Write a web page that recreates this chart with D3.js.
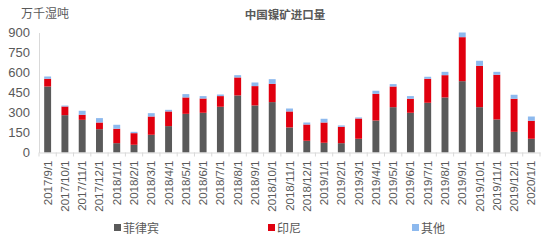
<!DOCTYPE html>
<html><head><meta charset="utf-8">
<script src="https://cdn.jsdelivr.net/npm/d3@7"></script>
<style>body{margin:0;background:#fff;} svg{display:block;font-family:"Liberation Sans","Noto Sans CJK SC",sans-serif;}</style>
</head><body>
<script>
const categories = ["2017/9/1","2017/10/1","2017/11/1","2017/12/1","2018/1/1","2018/2/1","2018/3/1","2018/4/1","2018/5/1","2018/6/1","2018/7/1","2018/8/1","2018/9/1","2018/10/1","2018/11/1","2018/12/1","2019/1/1","2019/2/1","2019/3/1","2019/4/1","2019/5/1","2019/6/1","2019/7/1","2019/8/1","2019/9/1","2019/10/1","2019/11/1","2019/12/1","2020/1/1"];
const philippines = [495,280,245,175,70,58,133,198,290,298,343,428,353,378,188,88,73,70,103,240,340,298,373,413,535,340,248,155,103];
const indonesia  = [58,65,38,50,108,87,137,110,123,107,80,135,145,137,120,122,152,123,152,200,155,105,180,167,330,310,335,248,135];
const others     = [17,7,30,33,30,10,25,12,25,18,12,17,27,35,22,15,28,10,8,23,18,20,15,25,35,38,22,30,32];
const seriesNames = ["菲律宾","印尼","其他"];
const yTicks = [0,150,300,450,600,750,900];
const colors = ["#5a5a5a","#e0000f","#8db9ee"];

const W=554,H=248;
const svg=d3.select("body").append("svg").attr("width",W).attr("height",H);
const x=d3.scaleBand().domain(categories).range([39,540]).paddingInner(0.6).paddingOuter(0.3);
const y=d3.scaleLinear().domain([0,900]).range([152.5,32.5]);

const rows=categories.map((c,i)=>({cat:c,"菲律宾":philippines[i],"印尼":indonesia[i],"其他":others[i]}));
const stack=d3.stack().keys(seriesNames)(rows);

svg.append("g").selectAll("g").data(stack).join("g").attr("fill",(d,i)=>colors[i])
 .selectAll("rect").data(d=>d).join("rect")
 .attr("x",d=>x(d.data.cat)).attr("width",x.bandwidth())
 .attr("y",d=>y(d[1])).attr("height",d=>y(d[0])-y(d[1]));

// y axis
const ya=svg.append("g").attr("transform","translate(39,0)").call(d3.axisLeft(y).tickValues(yTicks).tickSize(0).tickPadding(9));
ya.select(".domain").attr("stroke","#d9d9d9");
ya.selectAll("text").attr("fill","#595959").style("font-size","13px").style("font-family","Liberation Sans");

// x axis
const xa=svg.append("g").attr("transform","translate(0,152.5)").call(d3.axisBottom(x).tickSize(0).tickPadding(0));
xa.select(".domain").attr("stroke","#d9d9d9");
xa.selectAll("text").attr("fill","#595959").style("font-size","11.5px").style("font-family","Liberation Sans")
 .attr("transform","rotate(-90)").attr("text-anchor","end").attr("dx","-8px").attr("dy","0.35em").attr("y",0).attr("x",0);
// tick marks between categories
const bounds=d3.range(categories.length+1).map(i=>39+i*(501/categories.length));
svg.append("g").selectAll("line").data(bounds).join("line")
 .attr("x1",d=>d).attr("x2",d=>d).attr("y1",152.5).attr("y2",156.5).attr("stroke","#d9d9d9");

// title & unit
svg.append("text").attr("x",285).attr("y",19).attr("text-anchor","middle").attr("fill","#595959")
 .style("font-size","11.5px").style("font-weight","bold").style("font-family","Noto Sans CJK SC").text("中国镍矿进口量");
svg.append("text").attr("x",21).attr("y",18).attr("fill","#595959")
 .style("font-size","12px").style("font-family","Noto Sans CJK SC").text("万千湿吨");

// legend
const lx=[114,268,412];
const lg=svg.append("g").selectAll("g").data(seriesNames).join("g").attr("transform",(d,i)=>`translate(${lx[i]},228)`);
lg.append("rect").attr("x",0).attr("y",-4).attr("width",7).attr("height",7).attr("fill",(d,i)=>colors[i]);
lg.append("text").attr("x",9).attr("y",0).attr("dy","0.38em").attr("fill","#595959")
 .style("font-size","12px").style("font-family","Noto Sans CJK SC").text(d=>d);
</script>
</body></html>
